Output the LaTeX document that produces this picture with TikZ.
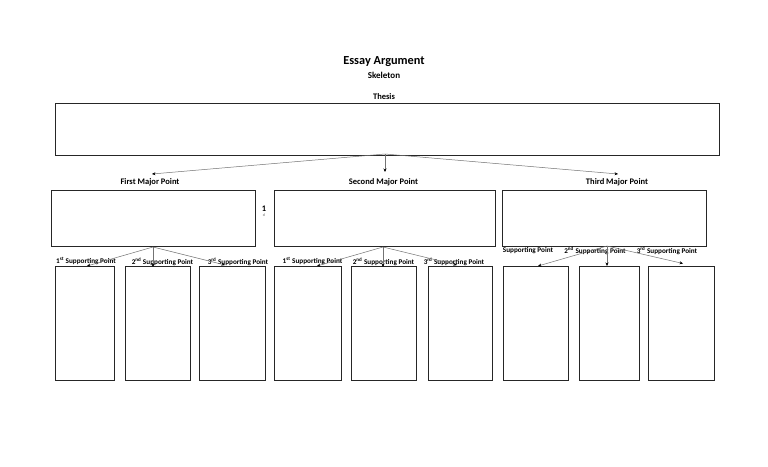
\documentclass[tikz,border=0pt]{standalone}
\usepackage{fontspec}
\setmainfont{Carlito}
\usetikzlibrary{arrows.meta}
\begin{document}
\begin{tikzpicture}[x=1pt,y=-1pt,
  box/.style={draw=black!85,line width=0.9pt,inner sep=0pt,fill=white,
    preaction={draw=black!45,line width=0.9pt,xshift=0.7pt,yshift=-0.7pt}},
  conn/.style={draw=black!55,line width=0.5pt,-{Stealth[length=3.5pt,width=3pt,black]}},
  lbl/.style={font=\bfseries\fontsize{8.5}{9}\selectfont,inner sep=0pt},
  slbl/.style={font=\bfseries\fontsize{7.2}{8}\selectfont,inner sep=0pt}]
\useasboundingbox[fill=white] (0,0) rectangle (768,466);
% titles
\node[font=\bfseries\fontsize{12.3}{14}\selectfont,inner sep=0pt] (title) at (384,62) {Essay Argument};
\node[font=\bfseries\fontsize{9}{10}\selectfont,inner sep=0pt] (sub) at (384,75) {Skeleton};
\node[lbl] (thl) at (384,97) {Thesis};
% thesis box
\node[box,minimum width=664pt,minimum height=52pt] (T) at (387,129) {};
% major boxes
\node[box,minimum width=204pt,minimum height=56pt] (M1) at (153,218) {};
\node[box,minimum width=221pt,minimum height=56pt] (M2) at (384.5,218) {};
\node[box,minimum width=204pt,minimum height=56pt] (M3) at (604,218) {};
% major labels
\node[lbl] (L1) at (150,182) {First Major Point};
\node[lbl] (L2) at (383.5,182) {Second Major Point};
\node[lbl] (L3) at (617,182) {Third Major Point};
% stray marks
\node[lbl] (one) at (264,209) {1};
\node[font=\fontsize{4}{4}\selectfont,inner sep=0pt,text=black!60] (dd) at (264,215.5) {d};
% thesis arrows
\coordinate (ts) at (385,154);
\coordinate (t1) at (152,174);
\coordinate (t2) at (385,172);
\coordinate (t3) at (618,174);
\draw[conn] (ts) -- (t1);
\draw[conn] (ts) -- (t2);
\draw[conn] (ts) -- (t3);
% supporting boxes
\foreach \n/\a/\b in {S1/55.2/114.7,S2/125/190.6,S3/199.6/265.7,S4/274.7/341.7,S5/351.6/416.8,S6/428/492.8,S7/503.6/568.8,S8/579/639,S9/648/714}{
  \node[box,minimum width=\b pt-\a pt,minimum height=114pt] (\n) at ({(\a+\b)/2},323) {};
}
% supporting labels
\node[slbl] (a1) at (86,261.5) {1\textsuperscript{st} Supporting Point};
\node[slbl] (a2) at (162.5,261.5) {2\textsuperscript{nd} Supporting Point};
\node[slbl] (a3) at (238,261.5) {3\textsuperscript{rd} Supporting Point};
\node[slbl] (b1) at (312.5,261.5) {1\textsuperscript{st} Supporting Point};
\node[slbl] (b2) at (383.5,261.5) {2\textsuperscript{nd} Supporting Point};
\node[slbl] (b3) at (454,261.5) {3\textsuperscript{rd} Supporting Point};
\node[slbl] (c1) at (528,251) {Supporting Point};
\node[slbl] (c2) at (595,251) {2\textsuperscript{nd} Supporting Point};
\node[slbl] (c3) at (667,251) {3\textsuperscript{rd} Supporting Point};
% supporting arrows
\coordinate (m1s) at (153,247);
\coordinate (m2s) at (383,247);
\coordinate (m3s) at (607,246);
\coordinate (p1) at (87,266);
\coordinate (p2) at (153,267);
\coordinate (p3) at (225,265);
\coordinate (q1) at (317,266);
\coordinate (q2) at (383,267);
\coordinate (q3) at (457,265);
\coordinate (r1) at (538,266);
\coordinate (r2) at (607,266);
\coordinate (r3) at (683,263.5);
\foreach \s/\t in {m1s/p1,m1s/p2,m1s/p3,m2s/q1,m2s/q2,m2s/q3,m3s/r1,m3s/r2,m3s/r3}{
  \draw[conn] (\s) -- (\t);
}
\end{tikzpicture}
\end{document}
